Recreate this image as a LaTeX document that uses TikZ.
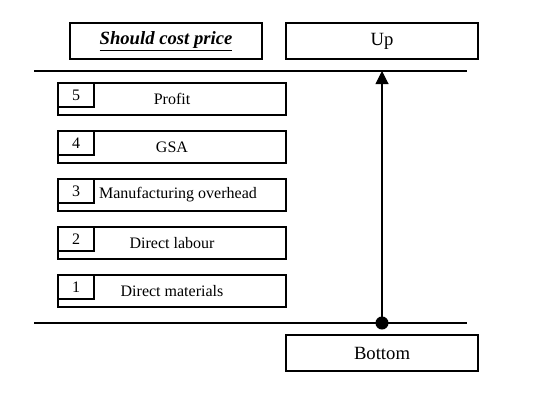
\documentclass[tikz,border=0pt]{standalone}
\usepackage{fontspec}
\setmainfont{Liberation Serif}
\usetikzlibrary{arrows.meta,positioning}

\begin{document}
\begin{tikzpicture}[x=0.75pt,y=-0.75pt,node distance=12pt,
  headbox/.style={rectangle,draw,line width=0.8pt,minimum width=144pt,minimum height=27pt,inner sep=0pt,font=\fontsize{14}{16}\selectfont},
  rowbox/.style={rectangle,draw,line width=0.8pt,minimum width=171pt,minimum height=24pt,inner sep=0pt,outer sep=0pt,font=\fontsize{12}{14}\selectfont},
  numbox/.style={rectangle,draw,line width=0.8pt,minimum width=27pt,minimum height=18pt,inner sep=0pt,outer sep=0pt,anchor=north west,font=\fontsize{12}{14}\selectfont}]
\useasboundingbox (0,0) rectangle (555,405);

% headings
\node[headbox] (cost) at (166,41) {\underline{\textbf{\textit{Should cost price}}}};
\node[headbox] (up) at (382,41) {Up};

% separating lines
\coordinate (topL) at (34,71);
\coordinate (topR) at (467,71);
\coordinate (botL) at (34,323);
\coordinate (botR) at (467,323);
\draw[line width=0.8pt] (topL) -- (topR);
\draw[line width=0.8pt] (botL) -- (botR);

% cost elements
\node[rowbox] (row5) at (172,99) {Profit};
\node[rowbox,below=of row5] (row4) {GSA};
\node[rowbox,below=of row4] (row3) {\hspace*{9pt}Manufacturing overhead};
\node[rowbox,below=of row3] (row2) {Direct labour};
\node[rowbox,below=of row2] (row1) {Direct materials};

% numbers
\foreach \i in {1,...,5}
  \node[numbox] (num\i) at (row\i.north west) {\i};

% bottom box
\node[headbox] (bottom) at (382,353) {Bottom};

% arrow from bottom to up
\coordinate (arrowbot) at (up |- botL);
\coordinate (arrowtop) at (up |- topL);
\draw[line width=0.8pt,-{Triangle[width=9.75pt,length=9.75pt]}] (arrowbot) -- (arrowtop);
\fill (arrowbot) circle (4.9pt);
\end{tikzpicture}
\end{document}
